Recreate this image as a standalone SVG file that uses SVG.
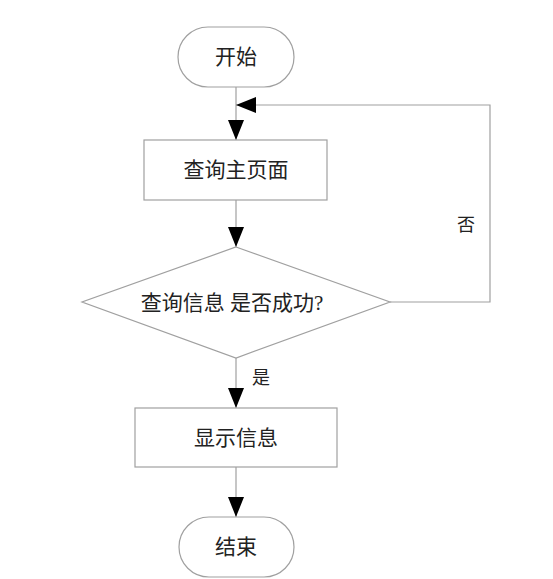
<svg xmlns="http://www.w3.org/2000/svg" width="553" height="579" viewBox="0 0 553 579">
<style>
.s{fill:#fff;stroke:#a0a0a0;stroke-width:1.2}
.c{fill:none;stroke:#a0a0a0;stroke-width:1.2}
.t{font-family:"Liberation Serif","Noto Sans CJK SC",serif;font-size:21px;fill:#222;text-anchor:middle;dominant-baseline:central}
.l{font-family:"Liberation Serif","Noto Sans CJK SC",serif;font-size:18px;fill:#222;text-anchor:middle;dominant-baseline:central}
</style>
<defs>
<marker id="a" markerUnits="userSpaceOnUse" markerWidth="20" markerHeight="16" refX="20" refY="8" orient="auto"><path d="M0,0 L20,8 L0,16 Z" fill="#000"/></marker>
</defs>
<rect width="553" height="579" fill="#fff"/>
<g id="connectors">
<line class="c" x1="236" y1="87" x2="236" y2="140" marker-end="url(#a)"/>
<line class="c" x1="236" y1="200" x2="236" y2="247" marker-end="url(#a)"/>
<polyline class="c" points="390,302 490,302 490,105 236,105" marker-end="url(#a)"/>
<line class="c" x1="236" y1="358" x2="236" y2="408" marker-end="url(#a)"/>
<line class="c" x1="236" y1="467" x2="236" y2="517" marker-end="url(#a)"/>
<text class="l" x="466" y="225">否</text>
<text class="l" x="261" y="378">是</text>
</g>
<g id="start"><rect class="s" x="178" y="27" width="116" height="60" rx="30"/><text class="t" x="236" y="57">开始</text></g>
<g id="query"><rect class="s" x="144" y="140" width="183" height="60"/><text class="t" x="236" y="170">查询主页面</text></g>
<g id="decision"><polygon class="s" points="236,247 390,302 236,358 82,302"/><text class="t" x="232" y="303">查询信息 是否成功?</text></g>
<g id="show"><rect class="s" x="135" y="408" width="202" height="59"/><text class="t" x="236" y="438">显示信息</text></g>
<g id="end"><rect class="s" x="179" y="517" width="115" height="60" rx="30"/><text class="t" x="236" y="547">结束</text></g>
</svg>
